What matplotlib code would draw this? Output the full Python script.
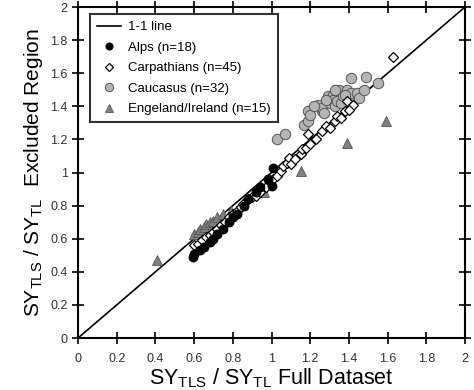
import matplotlib
matplotlib.use("Agg")
import matplotlib.pyplot as plt
from matplotlib.ticker import FuncFormatter

plt.rcParams['font.family'] = ['Liberation Sans', 'DejaVu Sans']

# ---- data ----
alps_x = [0.595, 0.60, 0.63, 0.65, 0.68, 0.70, 0.72, 0.75, 0.78, 0.80, 0.82, 0.86, 0.88, 0.92, 0.94, 0.98, 1.00, 1.01]
alps_y = [0.49, 0.51, 0.53, 0.55, 0.58, 0.60, 0.63, 0.66, 0.70, 0.73, 0.75, 0.80, 0.84, 0.88, 0.91, 0.96, 0.92, 1.03]

carp_x = [0.60, 0.62, 0.64, 0.66, 0.68, 0.70, 0.72, 0.74, 0.76, 0.78, 0.80, 0.82, 0.84, 0.85, 0.88,
          0.90, 0.92, 0.94, 0.97, 0.99, 1.01, 1.03, 1.05, 1.06, 1.08, 1.09, 1.10, 1.12, 1.15, 1.16,
          1.18, 1.20, 1.19, 1.23, 1.26, 1.28, 1.30, 1.33, 1.34, 1.36, 1.38, 1.39, 1.42, 1.40, 1.63]
carp_y = [0.56, 0.57, 0.59, 0.61, 0.62, 0.64, 0.66, 0.68, 0.70, 0.73, 0.75, 0.77, 0.79, 0.81, 0.84,
          0.85, 0.86, 0.88, 0.91, 0.94, 0.96, 0.98, 1.01, 1.04, 1.06, 1.09, 1.05, 1.08, 1.11, 1.14,
          1.15, 1.17, 1.23, 1.20, 1.25, 1.28, 1.27, 1.31, 1.34, 1.33, 1.37, 1.43, 1.41, 1.38, 1.70]

cauc_x = [1.03, 1.07, 1.17, 1.19, 1.19, 1.20, 1.24, 1.26, 1.26, 1.27, 1.29, 1.30, 1.32, 1.32, 1.33, 1.34,
          1.35, 1.36, 1.37, 1.39, 1.40, 1.41, 1.41, 1.44, 1.45, 1.48, 1.49, 1.55, 1.22, 1.28, 1.38, 1.33]
cauc_y = [1.20, 1.23, 1.29, 1.31, 1.37, 1.35, 1.41, 1.37, 1.39, 1.36, 1.46, 1.42, 1.47, 1.44, 1.40, 1.43,
          1.50, 1.42, 1.46, 1.50, 1.44, 1.57, 1.48, 1.48, 1.45, 1.50, 1.58, 1.54, 1.40, 1.44, 1.47, 1.50]

eng_x = [0.41, 0.60, 0.62, 0.63, 0.65, 0.66, 0.68, 0.70, 0.72, 0.75, 0.79, 0.96, 1.15, 1.39, 1.59]
eng_y = [0.47, 0.63, 0.64, 0.66, 0.67, 0.69, 0.70, 0.71, 0.73, 0.75, 0.77, 0.88, 1.01, 1.18, 1.31]

ticks = [0, 0.2, 0.4, 0.6, 0.8, 1, 1.2, 1.4, 1.6, 1.8, 2]

fig = plt.figure(figsize=(4.74, 3.90), dpi=100)
ax = fig.add_axes([0.1646, 0.1333, 0.8165, 0.8487])

line, = ax.plot([0, 2], [0, 2], color='black', lw=1.2, zorder=2)
h_eng, = ax.plot(eng_x, eng_y, ls='none', marker='^', ms=7.5, mfc='#808080', mec='#555555', mew=0.6, zorder=3)
h_cauc, = ax.plot(cauc_x, cauc_y, ls='none', marker='o', ms=7.5, mfc='#b4b4b4', mec='#555555', mew=0.7, zorder=4)
h_carp, = ax.plot(carp_x, carp_y, ls='none', marker='D', ms=5.5, mfc='white', mec='black', mew=0.9, zorder=5)
h_alps, = ax.plot(alps_x, alps_y, ls='none', marker='o', ms=6.5, mfc='black', mec='black', mew=0.6, zorder=6)

ax.set_xlim(0, 2)
ax.set_ylim(0, 2)
ax.set_xticks(ticks)
ax.set_yticks(ticks)
fmt = FuncFormatter(lambda v, p: ('%g' % v))
ax.xaxis.set_major_formatter(fmt)
ax.yaxis.set_major_formatter(fmt)
ax.tick_params(direction='inout', length=9, width=1.2, labelsize=9, labelcolor='#333333',
               top=True, right=True, pad=3)
ax.tick_params(axis='x', pad=6)
for s in ax.spines.values():
    s.set_linewidth(1.5)

ax.set_xlabel(r'SY$_{\mathregular{TLS}}$ / SY$_{\mathregular{TL}}$ Full Dataset', fontsize=15.5, labelpad=1)
ax.set_ylabel(r'SY$_{\mathregular{TLS}}$ / SY$_{\mathregular{TL}}$  Excluded Region', fontsize=15, labelpad=4)

leg = ax.legend([line, h_alps, h_carp, h_cauc, h_eng],
                ['1-1 line', 'Alps (n=18)', 'Carpathians (n=45)', 'Caucasus (n=32)', 'Engeland/Ireland (n=15)'],
                loc='upper left', bbox_to_anchor=(0.031, 0.979), fontsize=9.5, frameon=True, fancybox=False,
                edgecolor='black', handlelength=1.8, handletextpad=0.5, borderpad=0.55, labelspacing=0.62,
                borderaxespad=0, markerscale=0.8)
leg.get_frame().set_linewidth(1.5)

fig.savefig('out.png', dpi=100)
